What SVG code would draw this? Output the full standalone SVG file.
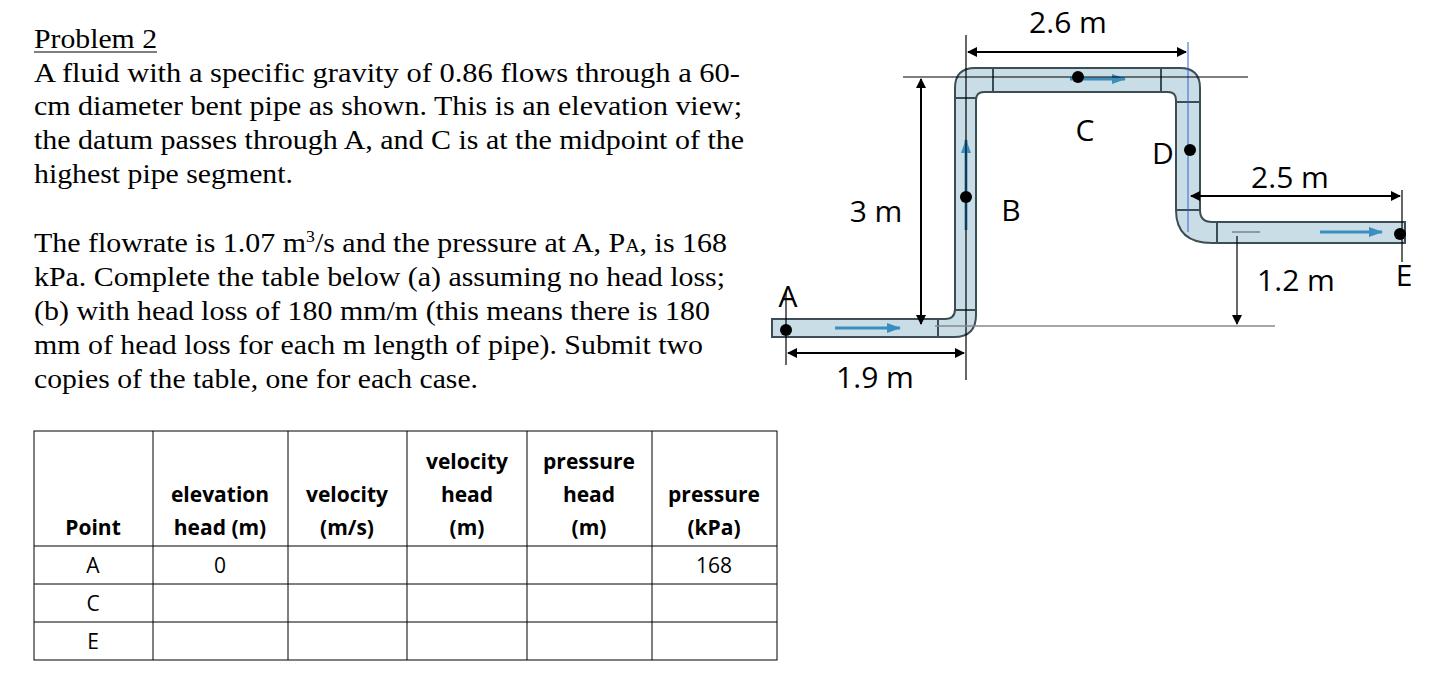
<svg xmlns="http://www.w3.org/2000/svg" width="1432" height="680" viewBox="0 0 1432 680">
<style>
.t{font-family:"Liberation Serif",serif;font-size:27px;fill:#000}
.l{font-family:"Open Sans","Liberation Sans",sans-serif;font-size:30px;fill:#000}
.h{font-family:"Open Sans","Liberation Sans",sans-serif;font-size:21px;font-weight:bold;fill:#000}
.c{font-family:"Open Sans","Liberation Sans",sans-serif;font-size:21px;fill:#000}
.pipe{fill:#c9dde6;stroke:#3d4d55;stroke-width:2}
.dim{stroke:#000;stroke-width:2;fill:none}
.flow{stroke:#3b8ec0;stroke-width:3;fill:none}
.g{stroke:#000;stroke-width:1.2;fill:none}
</style>
<defs>
<marker id="ar" markerWidth="10" markerHeight="10" refX="9" refY="5" orient="auto-start-reverse" markerUnits="userSpaceOnUse"><path d="M0,0 L10,5 L0,10 z" fill="#000"/></marker>
<marker id="fa" markerWidth="14" markerHeight="10" refX="13" refY="5" orient="auto" markerUnits="userSpaceOnUse"><path d="M0,0 L14,5 L0,10 z" fill="#3b8ec0"/></marker>
</defs>
<rect width="1432" height="680" fill="#fff"/>
<g id="text">
<text class="t" x="34" y="48" textLength="123" lengthAdjust="spacingAndGlyphs">Problem 2</text>
<line x1="34" y1="52" x2="157" y2="52" stroke="#000" stroke-width="1.2"/>
<text class="t" x="34" y="82" textLength="706" lengthAdjust="spacingAndGlyphs">A fluid with a specific gravity of 0.86 flows through a 60-</text>
<text class="t" x="34" y="115" textLength="708" lengthAdjust="spacingAndGlyphs">cm diameter bent pipe as shown. This is an elevation view;</text>
<text class="t" x="34" y="149" textLength="710" lengthAdjust="spacingAndGlyphs">the datum passes through A, and C is at the midpoint of the</text>
<text class="t" x="34" y="183" textLength="259" lengthAdjust="spacingAndGlyphs">highest pipe segment.</text>
<text class="t" x="34" y="252" textLength="693" lengthAdjust="spacingAndGlyphs">The flowrate is 1.07 m<tspan font-size="16" dy="-10">3</tspan><tspan dy="10">/s and the pressure at A, P</tspan><tspan font-size="18">A</tspan>, is 168</text>
<text class="t" x="34" y="286" textLength="691" lengthAdjust="spacingAndGlyphs">kPa. Complete the table below (a) assuming no head loss;</text>
<text class="t" x="34" y="320" textLength="676" lengthAdjust="spacingAndGlyphs">(b) with head loss of 180 mm/m (this means there is 180</text>
<text class="t" x="34" y="354" textLength="669" lengthAdjust="spacingAndGlyphs">mm of head loss for each m length of pipe). Submit two</text>
<text class="t" x="34" y="388" textLength="444" lengthAdjust="spacingAndGlyphs">copies of the table, one for each case.</text>
</g>
<g id="pipe">
<path class="pipe" d="M772,319 H945 Q955,319 955,309 V88 Q955,68 975,68 H1180 Q1200,68 1200,88 V210 Q1200,222 1212,222 H1405 V243 H1212 Q1176,243 1176,210 V100 Q1176,92 1168,92 H984 Q976,92 976,100 V315 Q976,337 954,337 H772 Z"/>
<g stroke="#3d4d55" stroke-width="2">
<line x1="955" y1="98" x2="976" y2="98"/><line x1="993" y1="68" x2="993" y2="92"/>
<line x1="1161" y1="68" x2="1161" y2="92"/><line x1="1176" y1="102" x2="1200" y2="102"/>
<line x1="1176" y1="210" x2="1200" y2="210"/><line x1="1217" y1="222" x2="1217" y2="243"/>
<line x1="955" y1="310" x2="976" y2="310"/><line x1="938" y1="319" x2="938" y2="337"/>
</g>
<line class="flow" x1="835" y1="328" x2="900" y2="328" marker-end="url(#fa)"/>
<line class="flow" x1="966" y1="230" x2="966" y2="140" marker-end="url(#fa)"/>
<line class="flow" x1="1070" y1="79" x2="1125" y2="79" marker-end="url(#fa)"/>
<line class="flow" x1="1320" y1="232" x2="1382" y2="232" marker-end="url(#fa)"/>
<line x1="1232" y1="232" x2="1260" y2="232" stroke="#8a9aa2" stroke-width="2"/>
</g>
<g id="connectors">
<line class="g" x1="966" y1="35" x2="966" y2="380"/>
<line x1="1188" y1="42" x2="1188" y2="232" stroke="#3a5fd0" stroke-width="1"/>
<line class="g" x1="903" y1="77" x2="1248" y2="77"/>
<line class="g" x1="786" y1="290" x2="786" y2="365"/>
<line class="g" x1="1402" y1="190" x2="1402" y2="262"/>
<line x1="935" y1="326" x2="1275" y2="326" stroke="#888" stroke-width="1.5"/>
<line class="dim" x1="968" y1="52" x2="1186" y2="52" marker-start="url(#ar)" marker-end="url(#ar)"/>
<line class="dim" x1="921" y1="79" x2="921" y2="324" marker-start="url(#ar)" marker-end="url(#ar)"/>
<line class="dim" x1="788" y1="353" x2="964" y2="353" marker-start="url(#ar)" marker-end="url(#ar)"/>
<line class="dim" x1="1191" y1="196" x2="1400" y2="196" marker-start="url(#ar)" marker-end="url(#ar)"/>
<line class="g" x1="1237" y1="236" x2="1237" y2="324" marker-end="url(#ar)"/>
</g>
<g id="points" fill="#000">
<circle cx="786" cy="330" r="6"/><circle cx="966" cy="197" r="6"/>
<circle cx="1078" cy="77" r="6"/><circle cx="1190" cy="150" r="6"/>
<circle cx="1400" cy="234" r="6"/>
</g>
<g id="labels">
<text class="l" x="1068" y="33" text-anchor="middle">2.6 m</text>
<text class="l" x="876" y="222" text-anchor="middle">3 m</text>
<text class="l" x="1011" y="221" text-anchor="middle">B</text>
<text class="l" x="1085" y="141" text-anchor="middle">C</text>
<text class="l" x="1163" y="164" text-anchor="middle">D</text>
<text class="l" x="1290" y="188" text-anchor="middle">2.5 m</text>
<text class="l" x="1296" y="291" text-anchor="middle">1.2 m</text>
<text class="l" x="1404" y="286" text-anchor="middle">E</text>
<text class="l" x="788" y="307" text-anchor="middle">A</text>
<text class="l" x="875" y="388" text-anchor="middle">1.9 m</text>
</g>
<g id="table">
<g stroke="#000" stroke-width="1" fill="none">
<rect x="34" y="431" width="743" height="229"/>
<line x1="153" y1="431" x2="153" y2="660"/><line x1="288" y1="431" x2="288" y2="660"/>
<line x1="407" y1="431" x2="407" y2="660"/><line x1="527" y1="431" x2="527" y2="660"/>
<line x1="652" y1="431" x2="652" y2="660"/>
<line x1="34" y1="546" x2="777" y2="546"/><line x1="34" y1="584" x2="777" y2="584"/>
<line x1="34" y1="622" x2="777" y2="622"/>
</g>
<g text-anchor="middle">
<text class="h" x="93" y="535">Point</text>
<text class="h" x="220" y="502">elevation</text><text class="h" x="220" y="535">head (m)</text>
<text class="h" x="347" y="502">velocity</text><text class="h" x="347" y="535">(m/s)</text>
<text class="h" x="467" y="469">velocity</text><text class="h" x="467" y="502">head</text><text class="h" x="467" y="535">(m)</text>
<text class="h" x="589" y="469">pressure</text><text class="h" x="589" y="502">head</text><text class="h" x="589" y="535">(m)</text>
<text class="h" x="714" y="502">pressure</text><text class="h" x="714" y="535">(kPa)</text>
<text class="c" x="93" y="573">A</text><text class="c" x="220" y="573">0</text><text class="c" x="714" y="573">168</text>
<text class="c" x="93" y="611">C</text>
<text class="c" x="93" y="649">E</text>
</g>
</g>
</svg>
